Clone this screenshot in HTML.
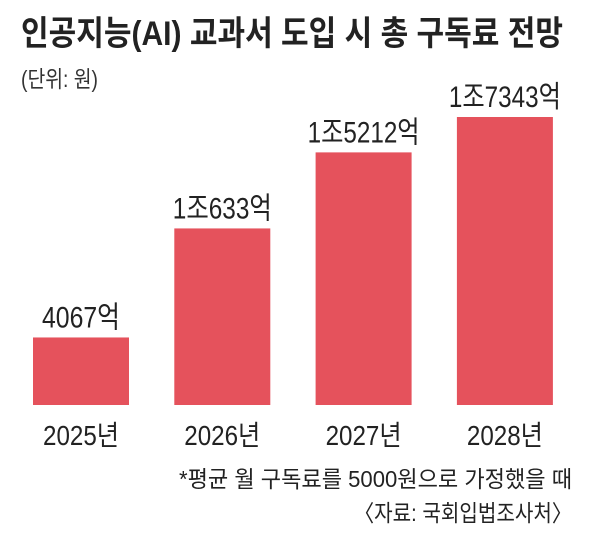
<!DOCTYPE html>
<html><head><meta charset="utf-8"><style>
html,body{margin:0;padding:0;background:#fff;}
svg{display:block;font-family:"Liberation Sans","Noto Sans CJK KR",sans-serif;}
</style></head><body>
<svg id="chart" width="600" height="533" viewBox="0 0 600 533">
<rect x="0" y="0" width="600" height="533" fill="#fff"/>
<text x="21" y="45" font-size="34" font-weight="bold" fill="#222" textLength="542" lengthAdjust="spacingAndGlyphs">인공지능(AI) 교과서 도입 시 총 구독료 전망</text>
<text x="21" y="87" font-size="23" fill="#333" textLength="77" lengthAdjust="spacingAndGlyphs">(단위: 원)</text>
<g id="bars"></g>
<text x="572" y="487" font-size="23" fill="#222" text-anchor="end" textLength="393" lengthAdjust="spacingAndGlyphs">*평균 월 구독료를 5000원으로 가정했을 때</text>
<text x="572" y="521" font-size="23" fill="#222" text-anchor="end" textLength="218" lengthAdjust="spacingAndGlyphs">〈자료: 국회입법조사처〉</text>
</svg>
<script>
const categories = ["2025년","2026년","2027년","2028년"];
const values = [4067, 10633, 15212, 17343];
const valueLabels = ["4067억","1조633억","1조5212억","1조7343억"];

const NS="http://www.w3.org/2000/svg";
const baseY=405, pxPerUnit=288/17343, x0=33, pitch=141.3, bw=96;
function xScale(i){return x0+i*pitch;}
function yScale(v){return baseY - v*pxPerUnit;}
const g=document.getElementById('bars');
values.forEach((v,i)=>{
  const r=document.createElementNS(NS,'rect');
  r.setAttribute('x',xScale(i));
  r.setAttribute('y',yScale(v));
  r.setAttribute('width',bw);
  r.setAttribute('height',baseY-yScale(v));
  r.setAttribute('fill','#e5525c');
  
  
  g.appendChild(r);
  const t=document.createElementNS(NS,'text');
  t.setAttribute('x',xScale(i)+bw/2);
  t.setAttribute('y',yScale(v)-10);
  t.setAttribute('text-anchor','middle');
  t.setAttribute('font-size','30');
  t.setAttribute('fill','#222');
  const lw = valueLabels[i].length<=5 ? 78 : (valueLabels[i].length==6?99:112);
  t.setAttribute('textLength',lw);
  t.setAttribute('lengthAdjust','spacingAndGlyphs');
  t.textContent=valueLabels[i];
  
  
  g.appendChild(t);
  const c=document.createElementNS(NS,'text');
  c.setAttribute('x',xScale(i)+bw/2);
  c.setAttribute('y',445);
  c.setAttribute('text-anchor','middle');
  c.setAttribute('font-size','28');
  c.setAttribute('fill','#222');
  c.setAttribute('textLength',76);
  c.setAttribute('lengthAdjust','spacingAndGlyphs');
  c.textContent=categories[i];
  
  
  g.appendChild(c);
});
</script>
</body></html>
